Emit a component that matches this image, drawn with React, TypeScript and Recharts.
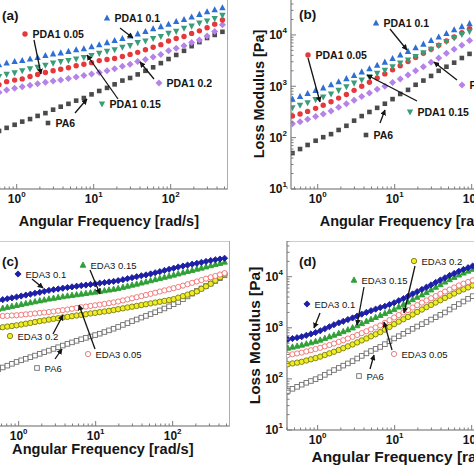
import React from "react";
import { ScatterChart, Scatter, XAxis, YAxis, ReferenceArea } from "recharts";

// angular frequency sweeps, rad/s
const FREQ_PDA = [0.47, 0.59, 0.74, 0.94, 1.18, 1.49, 1.87, 2.36, 2.97, 3.73, 4.7, 5.92, 7.45, 9.38, 11.8, 14.9, 18.7, 23.6, 29.7, 37.3, 47, 59.2, 74.5, 93.8, 118, 149, 187, 236, 297, 373, 470];
const FREQ_EDA = [0.41, 0.471, 0.541, 0.621, 0.713, 0.818, 0.94, 1.08, 1.24, 1.42, 1.63, 1.88, 2.15, 2.47, 2.84, 3.26, 3.74, 4.3, 4.93, 5.66, 6.5, 7.47, 8.57, 9.84, 11.3, 13.0, 14.9, 17.1, 19.6, 22.6, 25.9, 29.7, 34.1, 39.2, 45.0, 51.7, 59.3, 68.1, 78.2, 89.8, 103, 118, 136, 156, 179, 206, 236, 271, 312, 358, 411, 472];

// (a) storage modulus, PDA1 series [Pa]
const A_PA6 = [118, 135, 155, 178, 205, 230, 265, 300, 350, 400, 455, 525, 590, 695, 810, 930, 1090, 1290, 1450, 1700, 2000, 2340, 2820, 3390, 4070, 4900, 6030, 7240, 8710, 10000, 11500];
const A_005 = [1000, 1070, 1230, 1320, 1390, 1550, 1700, 1860, 2000, 2140, 2290, 2510, 2690, 2880, 3160, 3310, 3470, 3800, 4170, 4570, 5130, 5750, 6460, 7590, 8510, 9330, 10700, 12000, 13800, 16200, 19500];
const A_010 = [2450, 2630, 2830, 3030, 3170, 3390, 3630, 3980, 4270, 4470, 4790, 5130, 5370, 5890, 6460, 7080, 7760, 8510, 9550, 10500, 11700, 13200, 14500, 16200, 18200, 20000, 22400, 25100, 28200, 30900, 33900];
const A_015 = [1450, 1550, 1700, 1820, 2000, 2190, 2340, 2570, 2820, 3020, 3170, 3390, 3630, 3980, 4370, 4790, 5130, 5750, 6170, 7080, 7590, 8510, 9330, 10700, 11700, 13500, 14800, 17000, 18600, 20900, 24000];
const A_020 = [710, 760, 850, 910, 980, 1050, 1120, 1200, 1260, 1330, 1410, 1510, 1620, 1740, 1860, 2000, 2190, 2450, 2690, 3020, 3310, 3720, 4170, 4900, 5500, 6170, 7080, 8000, 9550, 11700, 15800];

// (b) loss modulus, PDA1 series [Pa]
const B_PA6 = [50, 60, 72, 87, 102, 117, 141, 170, 214, 263, 316, 380, 457, 562, 708, 851, 1070, 1290, 1590, 2000, 2400, 2880, 3550, 4270, 5250];
const B_005 = [263, 288, 324, 372, 427, 501, 589, 692, 832, 1000, 1200, 1450, 1740, 2090, 2510, 3020, 3630, 4370, 5250, 6310, 7590, 9120, 11000, 13200, 15800];
const B_010 = [562, 631, 724, 832, 933, 1070, 1230, 1410, 1620, 1910, 2190, 2570, 2950, 3470, 4070, 4790, 5620, 6610, 7760, 9120, 10700, 12600, 14500, 16600, 19100];
const B_015 = [380, 427, 479, 550, 617, 708, 832, 977, 1150, 1320, 1510, 1780, 2040, 2400, 2820, 3240, 3800, 4470, 5250, 6170, 7410, 8710, 10200, 11700, 13500];
const B_020 = [186, 204, 229, 257, 288, 331, 389, 457, 537, 631, 741, 871, 1000, 1180, 1380, 1660, 2000, 2400, 2950, 3550, 4370, 5250, 6310, 7760, 9330];

// (c) storage modulus, EDA3 series [Pa]
const C_PA6 = [115, 125, 136, 148, 161, 175, 191, 206, 221, 238, 256, 277, 299, 322, 348, 376, 406, 438, 470, 505, 542, 579, 618, 658, 701, 757, 817, 881, 957, 1050, 1140, 1250, 1350, 1470, 1590, 1730, 1880, 2050, 2240, 2470, 2720, 3010, 3430, 3900, 4440, 5010, 5620, 6310, 7050, 7940, 9040, 10300];
const C_005 = [1520, 1540, 1560, 1580, 1600, 1620, 1640, 1670, 1710, 1740, 1780, 1820, 1860, 1900, 1950, 2010, 2070, 2130, 2210, 2290, 2370, 2440, 2520, 2590, 2670, 2760, 2860, 2960, 3080, 3240, 3400, 3570, 3760, 3950, 4160, 4390, 4620, 4880, 5140, 5410, 5700, 6010, 6410, 6840, 7280, 7760, 8280, 8830, 9400, 10000, 10700, 11400];
const C_010 = [2970, 3090, 3220, 3360, 3500, 3650, 3800, 3970, 4140, 4330, 4510, 4710, 4920, 5140, 5320, 5500, 5690, 5880, 6050, 6240, 6430, 6580, 6760, 6970, 7160, 7360, 7590, 7800, 8070, 8430, 8830, 9230, 9660, 10100, 10500, 11000, 11600, 12200, 12900, 13600, 14300, 15100, 15800, 16500, 17200, 17900, 18700, 19500, 20400, 21100, 21800, 22600];
const C_015 = [2000, 2090, 2180, 2280, 2380, 2490, 2600, 2710, 2830, 2950, 3080, 3210, 3340, 3490, 3610, 3740, 3870, 4010, 4130, 4250, 4380, 4510, 4650, 4800, 4940, 5110, 5280, 5460, 5680, 5970, 6280, 6610, 6930, 7300, 7670, 8090, 8530, 9000, 9480, 10000, 10500, 11100, 11700, 12400, 13000, 13800, 14500, 15300, 16200, 17100, 18000, 19100];
const C_020 = [851, 881, 914, 944, 973, 1000, 1030, 1070, 1110, 1150, 1200, 1250, 1290, 1340, 1390, 1430, 1480, 1520, 1570, 1620, 1670, 1720, 1780, 1830, 1890, 1950, 2010, 2080, 2170, 2250, 2340, 2430, 2520, 2620, 2720, 2830, 2940, 3050, 3170, 3290, 3440, 3680, 3950, 4230, 4530, 4910, 5520, 6210, 6980, 8090, 9420, 11000];

// (d) loss modulus, EDA3 series [Pa]
const D_PA6 = [58, 64, 70, 77, 84, 91, 99, 108, 120, 134, 149, 164, 182, 201, 223, 251, 282, 316, 352, 387, 422, 479, 545, 619, 686, 766, 857, 955, 1060, 1180, 1300, 1450, 1610, 1800, 2000, 2280, 2580, 2920, 3270, 3700, 4170, 4680];
const D_005 = [292, 303, 315, 327, 345, 364, 384, 406, 433, 461, 492, 530, 571, 617, 667, 724, 787, 857, 931, 1020, 1110, 1250, 1410, 1590, 1780, 2000, 2230, 2490, 2780, 3110, 3430, 3790, 4190, 4630, 5120, 5610, 6150, 6750, 7310, 7890, 8510, 9180];
const D_010 = [593, 617, 641, 670, 713, 759, 809, 875, 959, 1050, 1150, 1250, 1340, 1450, 1560, 1700, 1850, 2010, 2160, 2320, 2490, 2640, 2860, 3090, 3390, 3730, 4150, 4610, 5100, 5640, 6240, 6920, 7730, 8590, 9530, 10600, 11600, 12800, 13900, 15000, 16200, 17600];
const D_015 = [403, 422, 441, 462, 488, 514, 543, 579, 624, 671, 723, 783, 849, 920, 1005, 1110, 1220, 1350, 1470, 1610, 1760, 1920, 2100, 2300, 2570, 2880, 3220, 3590, 4000, 4450, 4950, 5570, 6280, 7060, 7940, 8830, 9800, 10900, 11900, 13000, 14100, 15300];
const D_020 = [194, 201, 208, 216, 229, 242, 256, 273, 294, 316, 340, 368, 400, 434, 473, 518, 566, 619, 681, 748, 822, 923, 1040, 1180, 1320, 1470, 1630, 1820, 2040, 2280, 2540, 2810, 3120, 3460, 3850, 4250, 4690, 5180, 5650, 6180, 6750, 7360];

// log axes
const X_MAJOR = [1, 10, 100];
const Y_MAJOR = [10, 100, 1000, 10000];
const Y_DOMAIN: [number, number] = [10, 50000];
const minorTicks = (decades: number[], lo: number, hi: number) =>
  decades.flatMap((d) => [2, 3, 4, 5, 6, 7, 8, 9].map((m) => m * d)).filter((v) => v >= lo && v <= hi);
const X_TICKS = [...X_MAJOR, ...minorTicks([0.1, 1, 10, 100], 0.4, 550)];
const Y_TICKS = [...Y_MAJOR, ...minorTicks([10, 100, 1000, 10000], 10, 50000)];

const FONT = "'Liberation Sans', Arial, sans-serif";
const FRAME = "#9a9a9a";
const INK = "#151515";

type Shape = "square" | "circle" | "triUp" | "triDown" | "diamond";
type Style = { shape: Shape; fill: string; stroke: string; size: number };

const PDA = {
  pa6: { shape: "square", fill: "#4a4a4a", stroke: "none", size: 4.6 } as Style,
  p005: { shape: "circle", fill: "#e5383b", stroke: "none", size: 5.4 } as Style,
  p010: { shape: "triUp", fill: "#2e6fd4", stroke: "none", size: 6.4 } as Style,
  p015: { shape: "triDown", fill: "#3a9d7a", stroke: "none", size: 6.4 } as Style,
  p020: { shape: "diamond", fill: "#b582e8", stroke: "none", size: 7 } as Style,
};
const EDA = {
  pa6: { shape: "square", fill: "#ffffff", stroke: "#6e6e6e", size: 4.6 } as Style,
  e005: { shape: "circle", fill: "#ffffff", stroke: "#ef6d6d", size: 5.2 } as Style,
  e010: { shape: "diamond", fill: "#1d1fa6", stroke: "#1d1fa6", size: 6.2 } as Style,
  e015: { shape: "triUp", fill: "#2f9f36", stroke: "#2f9f36", size: 5.6 } as Style,
  e020: { shape: "circle", fill: "#efee22", stroke: "#7b7a14", size: 5.4 } as Style,
};

const Marker = ({ cx, cy, st }: { cx: number; cy: number; st: Style }) => {
  const s = st.size / 2;
  const common = { fill: st.fill, stroke: st.stroke, strokeWidth: 0.9 };
  switch (st.shape) {
    case "square":
      return <rect x={cx - s} y={cy - s} width={2 * s} height={2 * s} {...common} />;
    case "circle":
      return <circle cx={cx} cy={cy} r={s} {...common} />;
    case "triUp":
      return <polygon points={`${cx},${cy - s * 1.1} ${cx + s},${cy + s * 0.8} ${cx - s},${cy + s * 0.8}`} {...common} />;
    case "triDown":
      return <polygon points={`${cx},${cy + s * 1.1} ${cx + s},${cy - s * 0.8} ${cx - s},${cy - s * 0.8}`} {...common} />;
    default:
      return <polygon points={`${cx},${cy - s} ${cx + s},${cy} ${cx},${cy + s} ${cx - s},${cy}`} {...common} />;
  }
};

const XTick = ({ x, y, payload }: any) => {
  const major = X_MAJOR.includes(payload.value);
  return (
    <g>
      <line x1={x} x2={x} y1={y} y2={y - (major ? 5 : 2.5)} stroke="#7a7a7a" />
      {major && (
        <text x={x} y={y + 14.5} textAnchor="middle" fontFamily={FONT} fontWeight="bold" fontSize={12} fill={INK}>
          10<tspan dy={-6} fontSize={8}>{Math.round(Math.log10(payload.value))}</tspan>
        </text>
      )}
    </g>
  );
};

const YTick = ({ x, y, payload }: any) => {
  const major = Y_MAJOR.includes(payload.value);
  return (
    <g>
      <line x1={x} x2={x + (major ? 5 : 2.5)} y1={y} y2={y} stroke="#7a7a7a" />
      {major && (
        <text x={x - 4} y={y + 4.5} textAnchor="end" fontFamily={FONT} fontWeight="bold" fontSize={12} fill={INK}>
          10<tspan dy={-6} fontSize={8}>{Math.round(Math.log10(payload.value))}</tspan>
        </text>
      )}
    </g>
  );
};

type Series = { name: string; freq: number[]; values: number[]; st: Style };

const points = (freq: number[], values: number[]) => values.map((g, i) => ({ f: freq[i], g }));

const AXIS_W = 62;
const AXIS_H = 48;

type PanelProps = {
  left: number;
  top: number;
  w: number;
  h: number;
  xDomain: [number, number];
  yTitle: string;
  titleSize: number;
  titleOffset: number;
  titleShift: number;
  series: Series[];
};

const Panel = ({ left, top, w, h, xDomain, yTitle, titleSize, titleOffset, titleShift, series }: PanelProps) => (
  <div style={{ position: "absolute", left: left - AXIS_W, top }}>
    <ScatterChart width={w + AXIS_W} height={h + AXIS_H} margin={{ top: 0, right: 0, bottom: 0, left: 0 }}>
      <XAxis
        type="number"
        dataKey="f"
        scale="log"
        domain={xDomain}
        allowDataOverflow
        ticks={X_TICKS}
        interval={0}
        tickLine={false}
        tickSize={0}
        tickMargin={0}
        height={AXIS_H}
        axisLine={{ stroke: FRAME }}
        tick={(p: any) => <XTick {...p} />}
        label={{
          value: "Angular Frequency [rad/s]",
          position: "insideBottom",
          offset: titleOffset,
          dx: titleShift,
          style: { fontFamily: FONT, fontWeight: "bold", fontSize: titleSize, fill: INK },
        }}
      />
      <YAxis
        type="number"
        dataKey="g"
        scale="log"
        domain={Y_DOMAIN}
        allowDataOverflow
        ticks={Y_TICKS}
        interval={0}
        tickLine={false}
        tickSize={0}
        tickMargin={0}
        width={AXIS_W}
        axisLine={{ stroke: FRAME }}
        tick={(p: any) => <YTick {...p} />}
        label={{
          value: yTitle,
          angle: -90,
          position: "insideLeft",
          offset: 30,
          style: { textAnchor: "middle", fontFamily: FONT, fontWeight: "bold", fontSize: titleSize, fill: INK },
        }}
      />
      <ReferenceArea x1={xDomain[0]} x2={xDomain[1]} y1={Y_DOMAIN[0]} y2={Y_DOMAIN[1]} fill="none" stroke={FRAME} />
      {series.map((s) => (
        <Scatter
          key={s.name}
          name={s.name}
          data={points(s.freq, s.values)}
          isAnimationActive={false}
          shape={(p: any) => <Marker cx={p.cx} cy={p.cy} st={s.st} />}
        />
      ))}
    </ScatterChart>
  </div>
);

const SERIES_A: Series[] = [
  { name: "PA6", freq: FREQ_PDA, values: A_PA6, st: PDA.pa6 },
  { name: "PDA1 0.2", freq: FREQ_PDA, values: A_020, st: PDA.p020 },
  { name: "PDA1 0.05", freq: FREQ_PDA, values: A_005, st: PDA.p005 },
  { name: "PDA1 0.15", freq: FREQ_PDA, values: A_015, st: PDA.p015 },
  { name: "PDA1 0.1", freq: FREQ_PDA, values: A_010, st: PDA.p010 },
];
const SERIES_B: Series[] = [
  { name: "PA6", freq: FREQ_PDA, values: B_PA6, st: PDA.pa6 },
  { name: "PDA1 0.2", freq: FREQ_PDA, values: B_020, st: PDA.p020 },
  { name: "PDA1 0.05", freq: FREQ_PDA, values: B_005, st: PDA.p005 },
  { name: "PDA1 0.15", freq: FREQ_PDA, values: B_015, st: PDA.p015 },
  { name: "PDA1 0.1", freq: FREQ_PDA, values: B_010, st: PDA.p010 },
];
const SERIES_C: Series[] = [
  { name: "PA6", freq: FREQ_EDA, values: C_PA6, st: EDA.pa6 },
  { name: "EDA3 0.2", freq: FREQ_EDA, values: C_020, st: EDA.e020 },
  { name: "EDA3 0.05", freq: FREQ_EDA, values: C_005, st: EDA.e005 },
  { name: "EDA3 0.15", freq: FREQ_EDA, values: C_015, st: EDA.e015 },
  { name: "EDA3 0.1", freq: FREQ_EDA, values: C_010, st: EDA.e010 },
];
const SERIES_D: Series[] = [
  { name: "PA6", freq: FREQ_EDA, values: D_PA6, st: EDA.pa6 },
  { name: "EDA3 0.2", freq: FREQ_EDA, values: D_020, st: EDA.e020 },
  { name: "EDA3 0.05", freq: FREQ_EDA, values: D_005, st: EDA.e005 },
  { name: "EDA3 0.15", freq: FREQ_EDA, values: D_015, st: EDA.e015 },
  { name: "EDA3 0.1", freq: FREQ_EDA, values: D_010, st: EDA.e010 },
];

// callouts: legend symbol + text, with an arrow to the curve (page pixels)
type Note = { text: string; st: Style; mx: number; my: number; arrow: [number, number, number, number]; bold: boolean };
const NOTES: Note[] = [
  { text: "PDA1 0.1", st: PDA.p010, mx: 107, my: 18, arrow: [120, 28, 133, 38], bold: true },
  { text: "PDA1 0.05", st: PDA.p005, mx: 25, my: 34, arrow: [34, 40, 41, 74], bold: true },
  { text: "PDA1 0.2", st: PDA.p020, mx: 159, my: 83, arrow: [154, 79, 140, 62], bold: true },
  { text: "PDA1 0.15", st: PDA.p015, mx: 102, my: 104, arrow: [118, 99, 87, 55], bold: true },
  { text: "PA6", st: PDA.pa6, mx: 48, my: 123, arrow: [75, 113, 87, 99], bold: true },
  { text: "PDA1 0.1", st: PDA.p010, mx: 376, my: 23, arrow: [390, 29, 407, 50], bold: true },
  { text: "PDA1 0.05", st: PDA.p005, mx: 308, my: 55, arrow: [308, 58, 320, 102], bold: true },
  { text: "PDA1 0.15", st: PDA.p015, mx: 410, my: 112, arrow: [417, 101, 367, 75], bold: true },
  { text: "PA6", st: PDA.pa6, mx: 366, my: 135, arrow: [380, 123, 385, 110], bold: true },
  { text: "PDA1 0.2", st: PDA.p020, mx: 462, my: 85, arrow: [457, 80, 434, 62], bold: true },
  { text: "EDA3 0.1", st: EDA.e010, mx: 18, my: 274, arrow: [32, 279, 43, 288], bold: false },
  { text: "EDA3 0.15", st: EDA.e015, mx: 83, my: 265, arrow: [90, 270, 100, 294], bold: false },
  { text: "EDA3 0.2", st: EDA.e020, mx: 10, my: 336, arrow: [53, 334, 63, 315], bold: false },
  { text: "EDA3 0.05", st: EDA.e005, mx: 88, my: 354, arrow: [95, 349, 79, 305], bold: false },
  { text: "PA6", st: EDA.pa6, mx: 37, my: 368, arrow: [55, 359, 62, 349], bold: false },
  { text: "EDA3 0.2", st: EDA.e020, mx: 414, my: 261, arrow: [415, 266, 404, 313], bold: false },
  { text: "EDA3 0.15", st: EDA.e015, mx: 354, my: 280, arrow: [364, 287, 357, 325], bold: false },
  { text: "EDA3 0.1", st: EDA.e010, mx: 307, my: 304, arrow: [320, 313, 314, 328], bold: false },
  { text: "EDA3 0.05", st: EDA.e005, mx: 394, my: 354, arrow: [392, 350, 384, 322], bold: false },
  { text: "PA6", st: EDA.pa6, mx: 359, my: 376, arrow: [370, 369, 374, 355], bold: false },
];
const PANEL_TAGS = [
  { tag: "(a)", x: 2, y: 20 },
  { tag: "(b)", x: 299, y: 19 },
  { tag: "(c)", x: 2, y: 266 },
  { tag: "(d)", x: 299, y: 266 },
];

const Callouts = () => (
  <svg width={474} height={474} style={{ position: "absolute", left: 0, top: 0, pointerEvents: "none" }}>
    <defs>
      <marker id="arrowHead" viewBox="0 0 10 10" refX="9" refY="5" markerWidth="4.5" markerHeight="4.5" orient="auto">
        <path d="M0,0 L10,5 L0,10 z" fill={INK} />
      </marker>
    </defs>
    {NOTES.map((n, i) => (
      <g key={i}>
        <line x1={n.arrow[0]} y1={n.arrow[1]} x2={n.arrow[2]} y2={n.arrow[3]} stroke={INK} strokeWidth={1.3} markerEnd="url(#arrowHead)" />
        <Marker cx={n.mx} cy={n.my} st={n.st} />
        <text
          x={n.mx + 7.5}
          y={n.my + 3.7}
          fontFamily={FONT}
          fontWeight={n.bold ? "bold" : "normal"}
          fontSize={n.bold ? 10.5 : 9.5}
          fill={INK}
        >
          {n.text}
        </text>
      </g>
    ))}
    {PANEL_TAGS.map((t) => (
      <text key={t.tag} x={t.x} y={t.y} fontFamily={FONT} fontWeight="bold" fontSize={13.5} fill={INK}>
        {t.tag}
      </text>
    ))}
  </svg>
);

export default function App() {
  return (
    <div style={{ position: "fixed", left: 0, top: 0, width: 474, height: 474, overflow: "hidden", background: "#fff" }}>
      <Panel left={-9.7} top={-1} w={237.7} h={190} xDomain={[0.45, 550]} yTitle="Storage Modulus [Pa]" titleSize={14.5} titleOffset={11} titleShift={0} series={SERIES_A} />
      <Panel left={291} top={-1} w={237.7} h={190} xDomain={[0.45, 550]} yTitle="Loss Modulus [Pa]" titleSize={14.5} titleOffset={11} titleShift={0} series={SERIES_B} />
      <Panel left={-11.7} top={241} w={241.7} h={185} xDomain={[0.4, 550]} yTitle="Storage Modulus [Pa]" titleSize={14.6} titleOffset={20} titleShift={-6} series={SERIES_C} />
      <Panel left={287} top={241} w={241.7} h={189} xDomain={[0.4, 550]} yTitle="Loss Modulus [Pa]" titleSize={15.5} titleOffset={16} titleShift={0} series={SERIES_D} />
      <Callouts />
    </div>
  );
}
